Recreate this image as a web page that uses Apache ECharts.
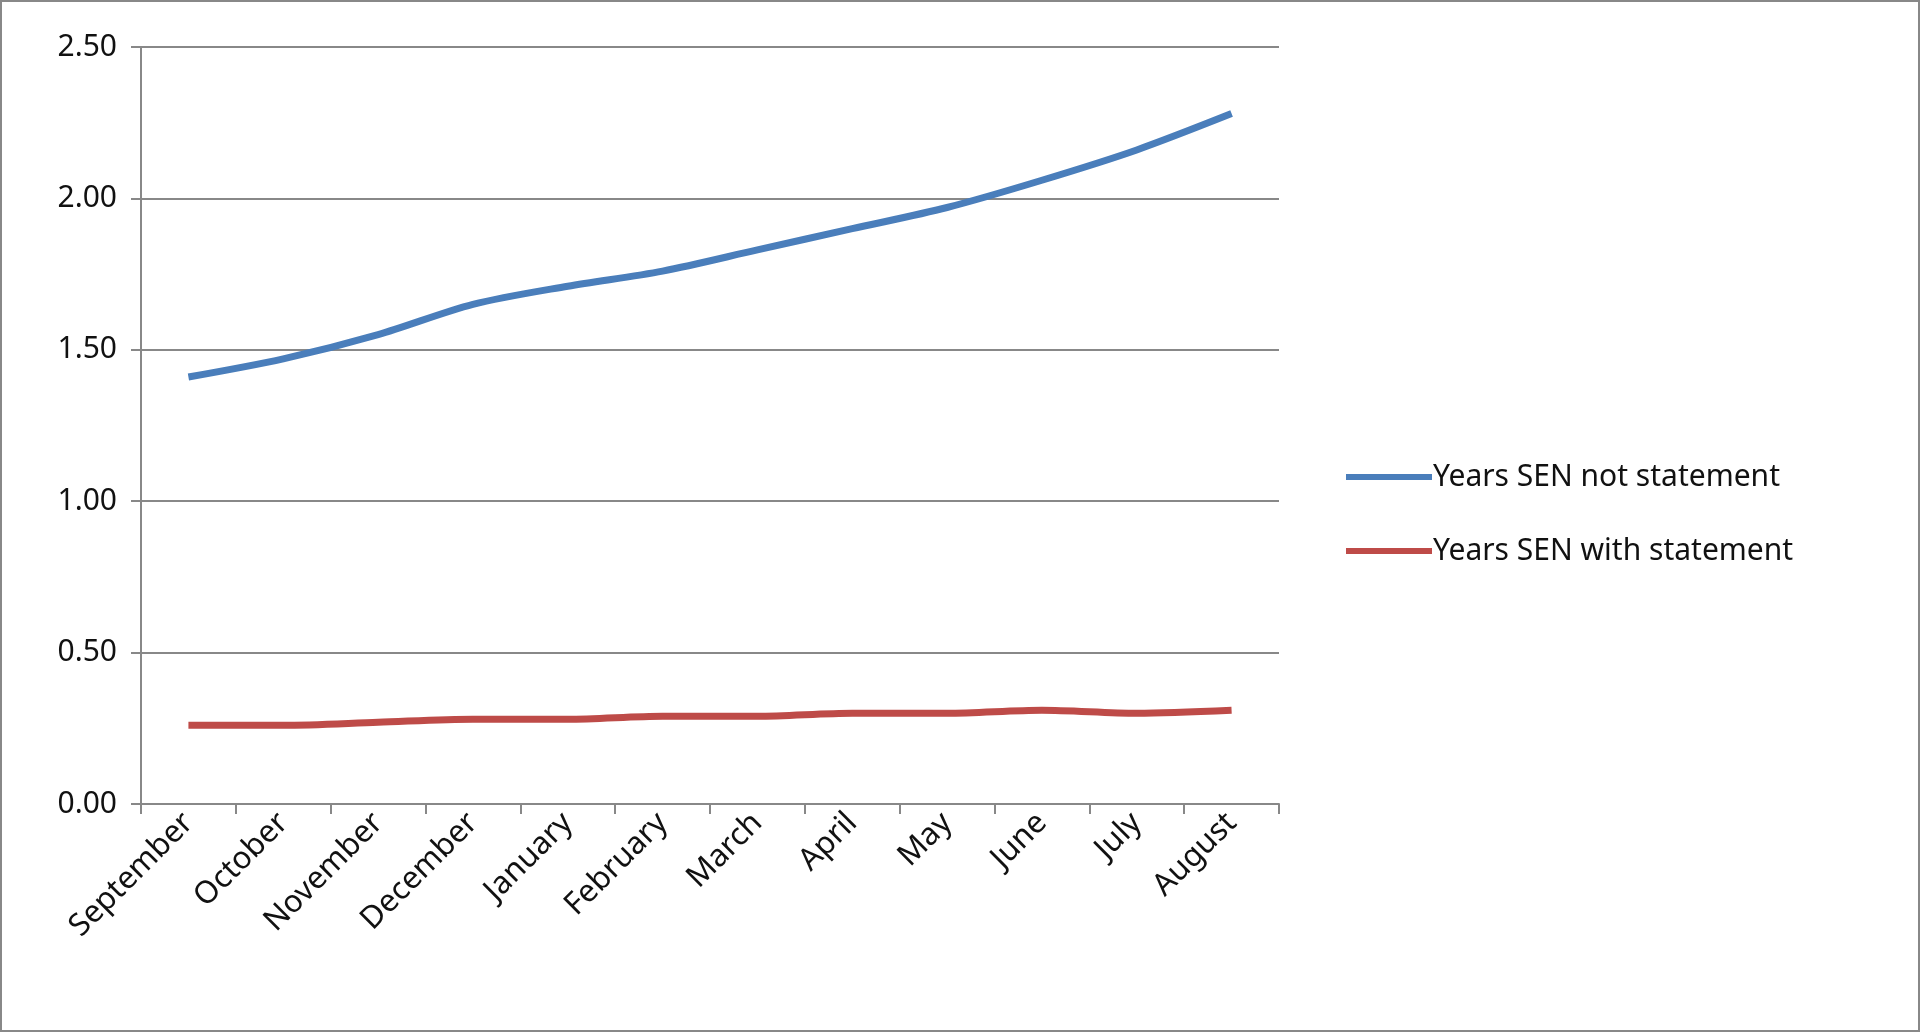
<!DOCTYPE html>
<html><head><meta charset="utf-8">
<script src="https://cdn.jsdelivr.net/npm/echarts@6/dist/echarts.min.js"></script>
<style>html,body{margin:0;padding:0;background:#fff}#c{width:1916px;height:1028px;border:2px solid #888}</style>
</head><body><div id="c"></div>
<script>
const categories=['September','October','November','December','January','February','March','April','May','June','July','August'];
const notStatement=[1.41,1.47,1.55,1.65,1.71,1.76,1.83,1.90,1.97,2.06,2.16,2.28];
const withStatement=[0.26,0.26,0.27,0.28,0.28,0.29,0.29,0.30,0.30,0.31,0.30,0.31];
const seriesNames=['Years SEN not statement','Years SEN with statement'];
const chart=echarts.init(document.getElementById('c'));
const font='"Noto Sans", sans-serif';
chart.setOption({
  animation:false,
  grid:{left:139,right:639,top:45,bottom:226,containLabel:false},
  legend:{orient:'vertical',left:1339,top:455,itemWidth:86,itemHeight:6,itemGap:44,icon:'rect',
    textStyle:{fontFamily:font,fontSize:30,color:'#111',padding:[0,0,0,-4]},data:seriesNames},
  xAxis:{type:'category',data:categories,boundaryGap:true,
    axisLine:{lineStyle:{color:'#888',width:2}},axisTick:{show:true,length:10,lineStyle:{color:'#888',width:2}},
    axisLabel:{rotate:45,fontFamily:font,fontSize:31,color:'#111',margin:14,interval:0}},
  yAxis:{type:'value',min:0,max:2.5,interval:0.5,
    axisLine:{show:true,lineStyle:{color:'#888',width:2}},axisTick:{show:true,length:10,lineStyle:{color:'#888',width:2}},
    splitLine:{lineStyle:{color:'#888',width:2}},
    axisLabel:{fontFamily:font,fontSize:30,color:'#111',margin:24,formatter:v=>v.toFixed(2)}},
  series:[
    {name:seriesNames[0],type:'line',data:notStatement,smooth:0.3,showSymbol:false,lineStyle:{color:'#4a7ebb',width:7},itemStyle:{color:'#4a7ebb'}},
    {name:seriesNames[1],type:'line',data:withStatement,smooth:0.3,showSymbol:false,lineStyle:{color:'#be4b48',width:7},itemStyle:{color:'#be4b48'}}
  ]
});
</script></body></html>
